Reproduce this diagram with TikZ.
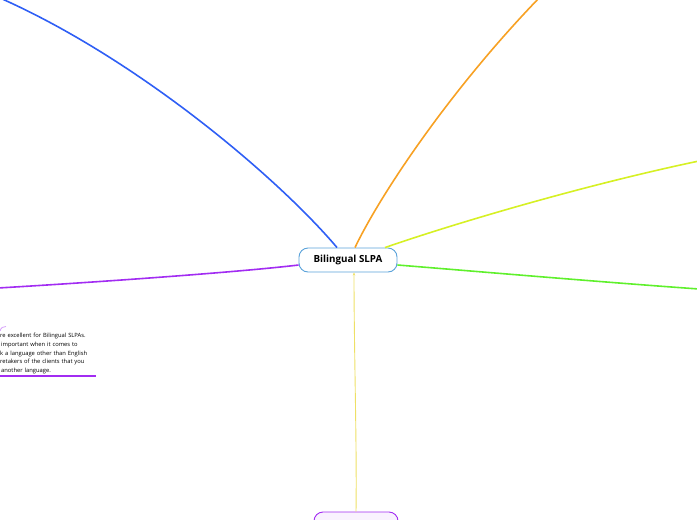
\documentclass[tikz,border=0pt]{standalone}
\usepackage{fontspec}
\setmainfont{Open Sans}
\usetikzlibrary{arrows.meta}
\definecolor{centreblue}{HTML}{5AA2DA}
\definecolor{branchblue}{HTML}{2F5FF5}
\definecolor{branchorange}{HTML}{F7A124}
\definecolor{branchlime}{HTML}{D6F024}
\definecolor{branchgreen}{HTML}{5FF02C}
\definecolor{branchpurple}{HTML}{A22CF2}
\definecolor{branchyellow}{HTML}{EEE066}
\tikzset{
	branch/.style={line width=1.6pt},
	topic/.style={draw,rectangle,rounded corners=9pt,line width=0.9pt},
}
\begin{document}
\begin{tikzpicture}[x=1pt,y=-1pt]
	\useasboundingbox (0,0) rectangle (697,520) ;
	\clip (0,0) rectangle (697,520) ;
	\node[topic,draw=centreblue,fill=white,minimum width=98pt,minimum height=24pt,font=\bfseries\fontsize{9.8}{11}\selectfont] (Bilingual) at (348,260) {Bilingual SLPA} ;
	\node[topic,draw=branchpurple,fill=branchpurple!6,minimum width=84pt,minimum height=30pt] (Interp) at (356,527) {} ;
	\node[anchor=south west,inner xsep=0pt,inner ysep=2pt,text width=96pt,align=left,font=\fontsize{5.8}{8.7}\selectfont] (InterpNote) at (0,376) {re excellent for Bilingual SLPAs.\\\hspace*{1pt}important when it comes to\\k a language other than English\\retakers of the clients that you\\\hspace*{1pt}another language.} ;
	\coordinate (BlueEnd) at (0,-2) ;
	\coordinate (OrangeEnd) at (540,-3) ;
	\coordinate (LimeEnd) at (699,161) ;
	\coordinate (GreenEnd) at (699,289) ;
	\coordinate (PurpleEnd) at (-2,288) ;
	\draw[branch,branchblue] ([xshift=-11pt]Bilingual.north) .. controls (280,180) and (140,60) .. (BlueEnd) ;
	\draw[branch,branchorange] ([xshift=7pt]Bilingual.north) .. controls (380,195) and (450,90) .. (OrangeEnd) ;
	\draw[branch,branchlime] ([xshift=37pt]Bilingual.north) .. controls (450,225) and (580,186) .. (LimeEnd) ;
	\draw[branch,branchgreen] ([yshift=-5pt]Bilingual.east) .. controls (460,270) and (600,282) .. (GreenEnd) ;
	\draw[branch,branchpurple] ([yshift=-5pt]Bilingual.west) .. controls (240,272) and (100,282) .. (PurpleEnd) ;
	\draw[line width=0.9pt,branchyellow,{Stealth[length=3pt,width=2.5pt]}-] ([xshift=6pt]Bilingual.south) .. controls (354,350) and (357,450) .. (Interp.north) ;
	\draw[branch,branchpurple] (InterpNote.south west) -- (InterpNote.south east) ;
	\draw[line width=0.8pt,branchpurple!45] (0,331) .. controls (1,327.5) and (3,326.5) .. (6,326.5) ;
\end{tikzpicture}
\end{document}
